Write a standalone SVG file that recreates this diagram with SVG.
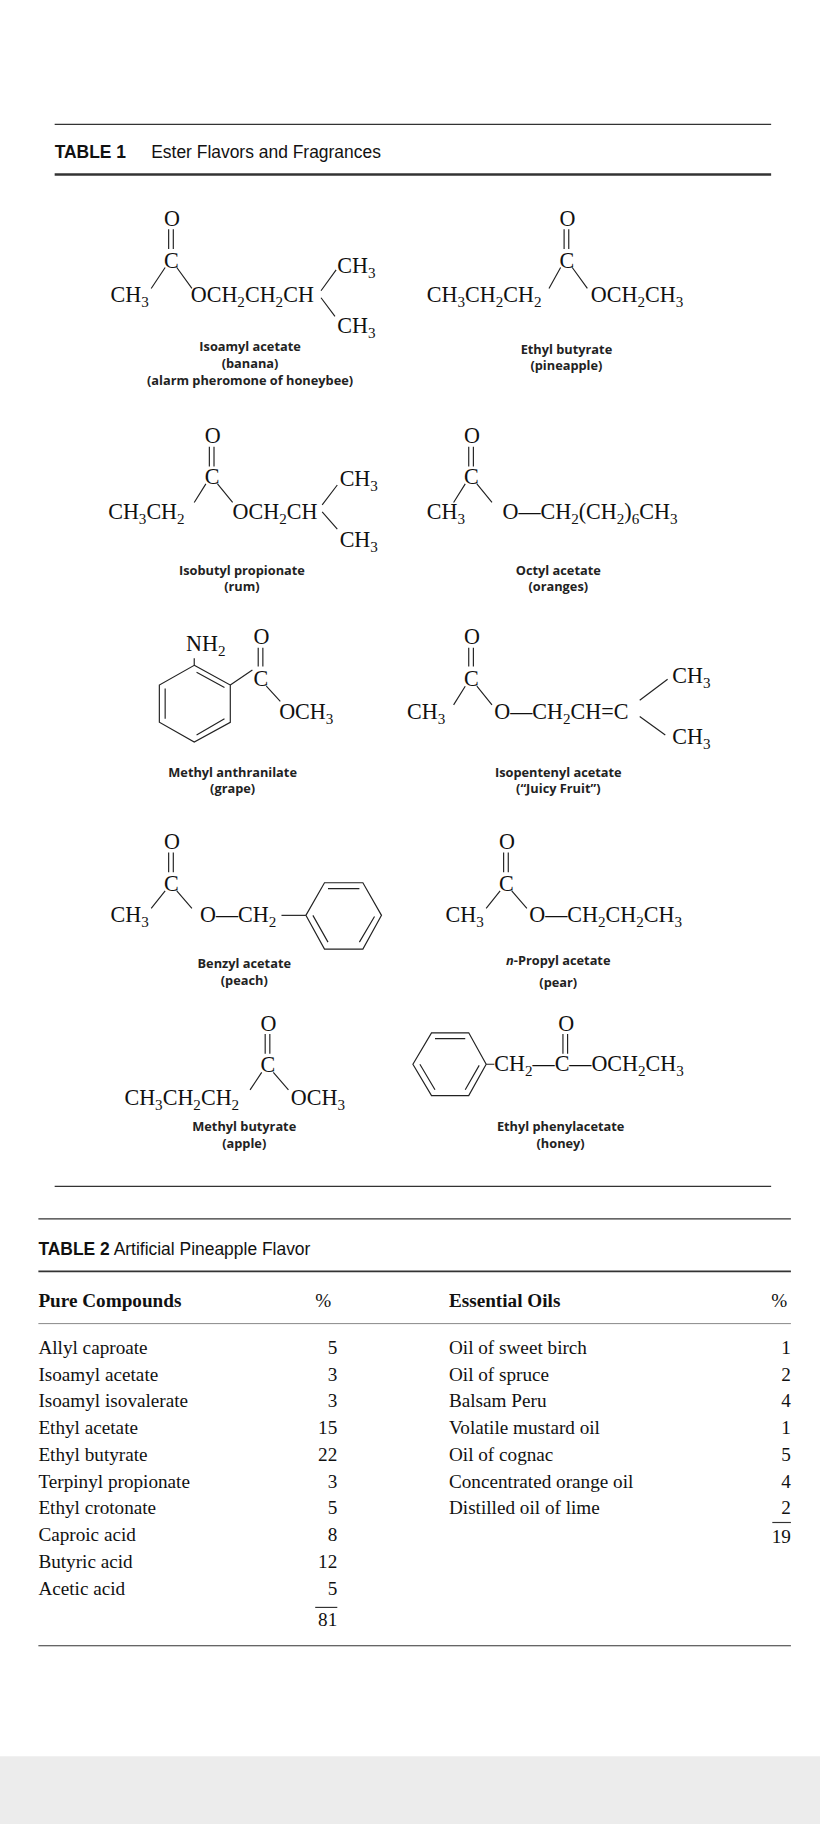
<svg xmlns="http://www.w3.org/2000/svg" width="820" height="1824" viewBox="0 0 820 1824">
<style>
.c{font-family:"Liberation Serif",serif;font-size:19px;fill:#111}
.s{font-size:13px;baseline-shift:-4px}
.l{font-family:"Open Sans","Liberation Sans",sans-serif;font-size:11px;font-weight:bold;fill:#222;text-anchor:middle}
.b{stroke:#222;stroke-width:1;fill:none}
.r{stroke:#333;fill:none}
.t{font-family:"Liberation Serif",serif;font-size:16.5px;fill:#111}
.n{text-anchor:end}
.h{font-family:"Liberation Sans",sans-serif;font-size:15px;fill:#111}
</style>
<rect width="820" height="1824" fill="#fff"/>
<g transform="scale(1.1631)">
<rect x="0" y="1510" width="705" height="60" fill="#ececec"/>
<g id="table1-header">
<line class="r" x1="47" y1="107" x2="663" y2="107"/>
<text class="h" x="47" y="136"><tspan font-weight="bold">TABLE 1</tspan><tspan x="130">Ester Flavors and Fragrances</tspan></text>
<line class="r" stroke-width="2" x1="47" y1="150" x2="663" y2="150"/>
</g>
<g id="isoamyl">
<text class="c" x="141" y="194">O</text>
<path class="b" d="M145 197V214M149 197V214M142 230L130 248M152 230L165 248M276 250L289 232M276 256L288 272"/>
<text class="c" x="141" y="230">C</text>
<text class="c" x="95" y="260">CH<tspan class="s">3</tspan></text>
<text class="c" x="164" y="260">OCH<tspan class="s">2</tspan>CH<tspan class="s">2</tspan>CH</text>
<text class="c" x="290" y="235">CH<tspan class="s">3</tspan></text>
<text class="c" x="290" y="286">CH<tspan class="s">3</tspan></text>
<text class="l" x="215" y="302">Isoamyl acetate</text>
<text class="l" x="215" y="316">(banana)</text>
<text class="l" x="215" y="331">(alarm pheromone of honeybee)</text>
</g>
<g id="ethylbutyrate">
<text class="c" x="481" y="194">O</text>
<path class="b" d="M485 197V214M489 197V214M482 230L472 248M492 230L505 248"/>
<text class="c" x="481" y="230">C</text>
<text class="c" x="367" y="260">CH<tspan class="s">3</tspan>CH<tspan class="s">2</tspan>CH<tspan class="s">2</tspan></text>
<text class="c" x="508" y="260">OCH<tspan class="s">2</tspan>CH<tspan class="s">3</tspan></text>
<text class="l" x="487" y="304">Ethyl butyrate</text>
<text class="l" x="487" y="318">(pineapple)</text>
</g>
<g id="isobutyl">
<text class="c" x="176" y="381">O</text>
<path class="b" d="M180 384V401M184 384V401M177 416L167 432M187 416L200 432M277 434L290 417M277 440L290 455"/>
<text class="c" x="176" y="416">C</text>
<text class="c" x="93" y="446">CH<tspan class="s">3</tspan>CH<tspan class="s">2</tspan></text>
<text class="c" x="200" y="446">OCH<tspan class="s">2</tspan>CH</text>
<text class="c" x="292" y="418">CH<tspan class="s">3</tspan></text>
<text class="c" x="292" y="470">CH<tspan class="s">3</tspan></text>
<text class="l" x="208" y="494">Isobutyl propionate</text>
<text class="l" x="208" y="508">(rum)</text>
</g>
<g id="octyl">
<text class="c" x="399" y="381">O</text>
<path class="b" d="M403 384V401M407 384V401M400 416L390 432M410 416L423 432"/>
<text class="c" x="399" y="416">C</text>
<text class="c" x="367" y="446">CH<tspan class="s">3</tspan></text>
<text class="c" x="432" y="446">O—CH<tspan class="s">2</tspan>(CH<tspan class="s">2</tspan>)<tspan class="s">6</tspan>CH<tspan class="s">3</tspan></text>
<text class="l" x="480" y="494">Octyl acetate</text>
<text class="l" x="480" y="508">(oranges)</text>
</g>
<g id="anthranilate">
<text class="c" x="160" y="560">NH<tspan class="s">2</tspan></text>
<path class="b" d="M167 572L198 589L198 621L167 638L137 621L137 589Z"/>
<path class="b" d="M169 578L193 591M142 592L142 618M193 618L169 632M167 572L167 566M198 589L217 576"/>
<text class="c" x="218" y="554">O</text>
<path class="b" d="M222 557V573M226 557V573M229 590L241 603"/>
<text class="c" x="218" y="590">C</text>
<text class="c" x="240" y="618">OCH<tspan class="s">3</tspan></text>
<text class="l" x="200" y="668">Methyl anthranilate</text>
<text class="l" x="200" y="682">(grape)</text>
</g>
<g id="isopentenyl">
<text class="c" x="399" y="554">O</text>
<path class="b" d="M403 557V573M407 557V573M400 590L390 606M410 590L423 606M550 602L574 584M550 616L572 632"/>
<text class="c" x="399" y="590">C</text>
<text class="c" x="350" y="618">CH<tspan class="s">3</tspan></text>
<text class="c" x="425" y="618">O—CH<tspan class="s">2</tspan>CH=C</text>
<text class="c" x="578" y="587">CH<tspan class="s">3</tspan></text>
<text class="c" x="578" y="640">CH<tspan class="s">3</tspan></text>
<text class="l" x="480" y="668">Isopentenyl acetate</text>
<text class="l" x="480" y="682">(“Juicy Fruit”)</text>
</g>
<g id="benzyl">
<text class="c" x="141" y="730">O</text>
<path class="b" d="M145 733V750M149 733V750M142 766L130 781M152 766L165 781"/>
<text class="c" x="141" y="766">C</text>
<text class="c" x="95" y="793">CH<tspan class="s">3</tspan></text>
<text class="c" x="172" y="793">O—CH<tspan class="s">2</tspan></text>
<path class="b" d="M242 787H263"/>
<path class="b" d="M263 787L279 759L312 759L328 787L312 816L279 816Z"/>
<path class="b" d="M282 764L309 764M322 788L309 810M269 787L282 810"/>
<text class="l" x="210" y="832">Benzyl acetate</text>
<text class="l" x="210" y="847">(peach)</text>
</g>
<g id="propyl">
<text class="c" x="429" y="730">O</text>
<path class="b" d="M433 733V750M437 733V750M430 766L418 781M440 766L453 781"/>
<text class="c" x="429" y="766">C</text>
<text class="c" x="383" y="793">CH<tspan class="s">3</tspan></text>
<text class="c" x="455" y="793">O—CH<tspan class="s">2</tspan>CH<tspan class="s">2</tspan>CH<tspan class="s">3</tspan></text>
<text class="l" x="480" y="830"><tspan font-style="italic">n</tspan>-Propyl acetate</text>
<text class="l" x="480" y="849">(pear)</text>
</g>
<g id="methylbutyrate">
<text class="c" x="224" y="886">O</text>
<path class="b" d="M228 889V906M232 889V906M225 922L215 937M235 922L248 937"/>
<text class="c" x="224" y="922">C</text>
<text class="c" x="107" y="950">CH<tspan class="s">3</tspan>CH<tspan class="s">2</tspan>CH<tspan class="s">2</tspan></text>
<text class="c" x="250" y="950">OCH<tspan class="s">3</tspan></text>
<text class="l" x="210" y="972">Methyl butyrate</text>
<text class="l" x="210" y="987">(apple)</text>
</g>
<g id="phenylacetate">
<path class="b" d="M355 915L371 888L403 888L418 915L403 942L371 942Z"/>
<path class="b" d="M374 893L400 893M412 916L400 937M361 915L374 937M418 915H425"/>
<text class="c" x="425" y="921">CH<tspan class="s">2</tspan>—C—OCH<tspan class="s">2</tspan>CH<tspan class="s">3</tspan></text>
<text class="c" x="480" y="886">O</text>
<path class="b" d="M484 889V906M488 889V906"/>
<text class="l" x="482" y="972">Ethyl phenylacetate</text>
<text class="l" x="482" y="987">(honey)</text>
</g>
<line class="r" x1="47" y1="1020" x2="663" y2="1020"/>
<g id="table2">
<line class="r" x1="33" y1="1048" x2="680" y2="1048"/>
<text class="h" x="33" y="1079"><tspan font-weight="bold">TABLE 2</tspan> Artificial Pineapple Flavor</text>
<line class="r" stroke-width="1.5" x1="33" y1="1093" x2="680" y2="1093"/>
<text class="t" x="33" y="1124" font-weight="bold" font-size="17">Pure Compounds</text>
<text class="t" x="278" y="1124" text-anchor="middle">%</text>
<text class="t" x="386" y="1124" font-weight="bold" font-size="17">Essential Oils</text>
<text class="t" x="670" y="1124" text-anchor="middle">%</text>
<line class="r" stroke-width="0.5" x1="33" y1="1138" x2="680" y2="1138"/>
<g class="t">
<text x="33" y="1164">Allyl caproate</text><text x="33" y="1187">Isoamyl acetate</text><text x="33" y="1210">Isoamyl isovalerate</text><text x="33" y="1233">Ethyl acetate</text><text x="33" y="1256">Ethyl butyrate</text><text x="33" y="1279">Terpinyl propionate</text><text x="33" y="1302">Ethyl crotonate</text><text x="33" y="1325">Caproic acid</text><text x="33" y="1348">Butyric acid</text><text x="33" y="1371">Acetic acid</text>
</g>
<g class="t n">
<text x="290" y="1164">5</text><text x="290" y="1187">3</text><text x="290" y="1210">3</text><text x="290" y="1233">15</text><text x="290" y="1256">22</text><text x="290" y="1279">3</text><text x="290" y="1302">5</text><text x="290" y="1325">8</text><text x="290" y="1348">12</text><text x="290" y="1371">5</text><text x="290" y="1398">81</text>
</g>
<line class="r" x1="271" y1="1382" x2="290" y2="1382"/>
<g class="t">
<text x="386" y="1164">Oil of sweet birch</text><text x="386" y="1187">Oil of spruce</text><text x="386" y="1210">Balsam Peru</text><text x="386" y="1233">Volatile mustard oil</text><text x="386" y="1256">Oil of cognac</text><text x="386" y="1279">Concentrated orange oil</text><text x="386" y="1302">Distilled oil of lime</text>
</g>
<g class="t n">
<text x="680" y="1164">1</text><text x="680" y="1187">2</text><text x="680" y="1210">4</text><text x="680" y="1233">1</text><text x="680" y="1256">5</text><text x="680" y="1279">4</text><text x="680" y="1302">2</text><text x="680" y="1327">19</text>
</g>
<line class="r" x1="664" y1="1309" x2="680" y2="1309"/>
<line class="r" x1="33" y1="1415" x2="680" y2="1415"/>
</g>
</g>
</svg>
